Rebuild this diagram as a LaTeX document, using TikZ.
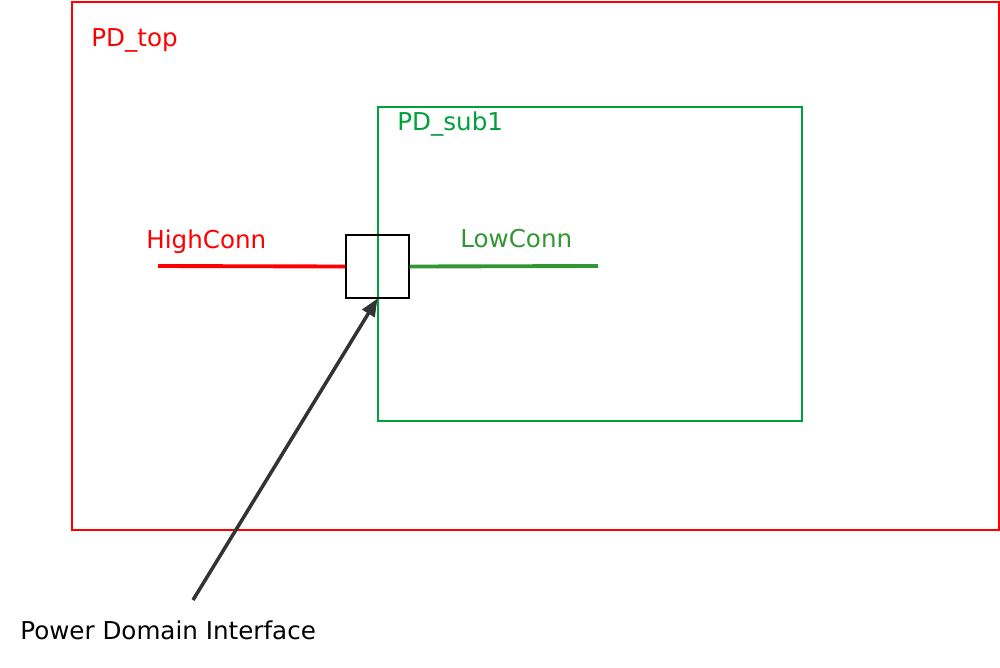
\documentclass[tikz,border=0pt]{standalone}
\usepackage{fontspec}
\setmainfont{DejaVu Sans}
\usetikzlibrary{arrows.meta}
\definecolor{pdred}{RGB}{255,0,0}
\definecolor{pdgreen}{RGB}{0,160,60}
\definecolor{lgreen}{RGB}{50,150,50}
\begin{document}
\begin{tikzpicture}[x=0.02cm,y=-0.02cm,
 lbl/.style={anchor=west,inner sep=0,font=\fontsize{14}{16}\selectfont}]
\useasboundingbox (0,0) rectangle (1000,667);
\draw[pdred,line width=0.8pt] (72,2) rectangle (999,530);
\draw[pdgreen,line width=0.6pt] (378,107) rectangle (802,421);
\node[lbl,text=pdred] (top) at (91,40) {PD\_top};
\node[lbl,text=pdgreen] (sub) at (397,124) {PD\_sub1};
\node[draw,minimum size=1.26cm,inner sep=0,line width=0.6pt] (pdi) at (377.5,266.5) {};
\coordinate (hs) at (158,266);
\coordinate (le) at (598,266);
\draw[pdred,line width=2.2pt] (hs) -- (pdi.west);
\draw[lgreen,line width=2.2pt] (pdi.east) -- (le);
\node[lbl,text=pdred] (hc) at (146,242) {HighConn};
\node[lbl,text=lgreen] (lc) at (460,239) {LowConn};
\node[lbl,text=black] (lab) at (20,630) {Power Domain Interface};
\coordinate (as) at (193,600);
\draw[line width=2pt,color=black!80,-{Triangle[length=10pt,width=8pt]}] (as) -- (pdi.south);
\end{tikzpicture}
\end{document}
